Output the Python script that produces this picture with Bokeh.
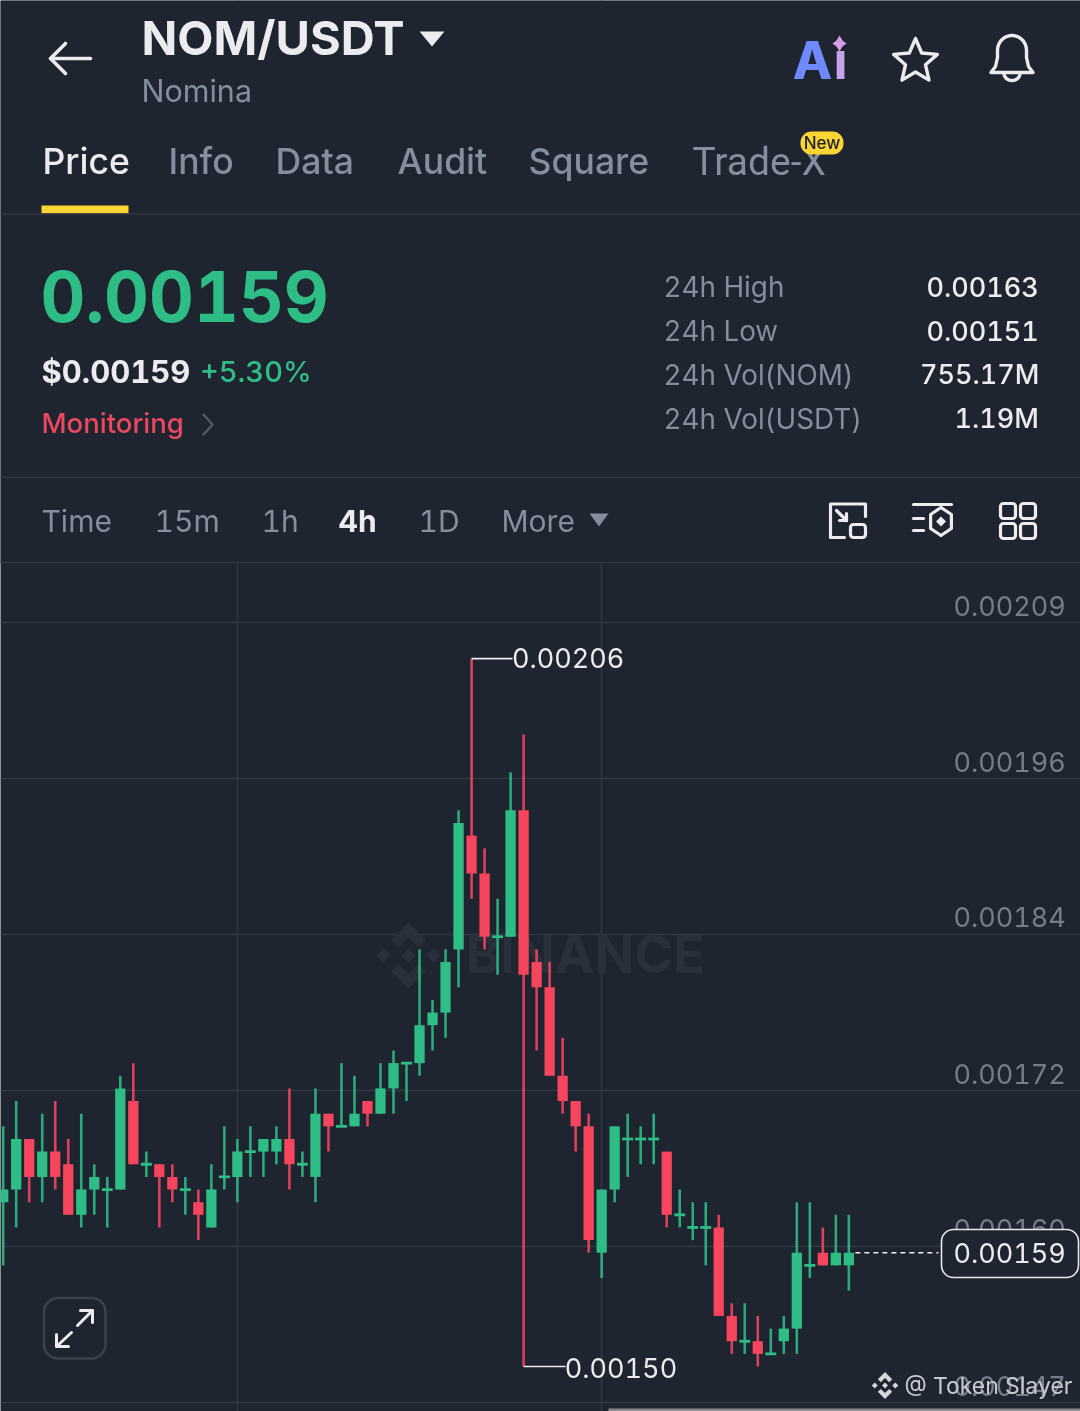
import numpy as np
from bokeh.plotting import figure
from bokeh.embed import file_html
from bokeh.resources import INLINE
from bokeh.core.properties import value
from bokeh.models import Range1d, FixedTicker

# ---------- chart data (prices) ----------
opens = [0.00163,0.00164,0.00168,0.00165,0.00167,0.00166,0.00162,0.00164,0.00164,0.00164,
         0.00171,0.00166,0.00166,0.00165,0.00164,0.00163,0.00161,0.00165,0.00165,0.00167,
         0.00167,0.00167,0.00168,0.00166,0.00165,0.00170,0.00169,0.00169,0.00171,0.00170,
         0.00172,0.00174,0.00174,0.00177,0.00178,0.00183,0.00192,0.00189,0.00184,0.00184,
         0.00194,0.00182,0.00180,0.00173,0.00171,0.00169,0.00159,0.00164,0.00168,0.00168,
         0.00168,0.00167,0.00162,0.00161,0.00161,0.00161,0.00154,0.00152,0.00152,0.00151,
         0.00152,0.00153,0.00158,0.00159,0.00158,0.00158]
closes = [0.00164,0.00168,0.00165,0.00167,0.00165,0.00162,0.00164,0.00165,0.00164,0.00172,
          0.00166,0.00166,0.00165,0.00164,0.00164,0.00162,0.00164,0.00165,0.00167,0.00167,
          0.00168,0.00168,0.00166,0.00166,0.00170,0.00169,0.00169,0.00170,0.00170,0.00172,
          0.00174,0.00174,0.00177,0.00178,0.00182,0.00193,0.00189,0.00184,0.00184,0.00194,
          0.00181,0.00180,0.00173,0.00171,0.00169,0.00160,0.00164,0.00169,0.00168,0.00168,
          0.00168,0.00162,0.00162,0.00161,0.00161,0.00154,0.00152,0.00152,0.00151,0.00151,
          0.00153,0.00159,0.00158,0.00158,0.00159,0.00159]
highs = [0.00169,0.00171,0.00168,0.00170,0.00171,0.00168,0.00170,0.00166,0.00165,0.00173,
         0.00174,0.00167,0.00166,0.00166,0.00165,0.00164,0.00166,0.00169,0.00168,0.00169,
         0.00168,0.00169,0.00172,0.00167,0.00172,0.00170,0.00174,0.00173,0.00171,0.00174,
         0.00175,0.00174,0.00183,0.00179,0.00183,0.00194,0.00206,0.00191,0.00187,0.00197,
         0.00200,0.00183,0.00182,0.00176,0.00171,0.00170,0.00164,0.00169,0.00170,0.00169,
         0.00170,0.00167,0.00164,0.00163,0.00163,0.00162,0.00155,0.00155,0.00154,0.00153,
         0.00154,0.00163,0.00163,0.00161,0.00162,0.00162]
lows = [0.00158,0.00161,0.00163,0.00163,0.00164,0.00162,0.00161,0.00162,0.00161,0.00164,
        0.00166,0.00165,0.00161,0.00163,0.00162,0.00160,0.00161,0.00164,0.00163,0.00165,
        0.00165,0.00166,0.00164,0.00165,0.00163,0.00167,0.00169,0.00169,0.00169,0.00170,
        0.00170,0.00171,0.00173,0.00175,0.00176,0.00180,0.00187,0.00183,0.00181,0.00184,
        0.00150,0.00175,0.00173,0.00170,0.00167,0.00159,0.00157,0.00163,0.00165,0.00166,
        0.00166,0.00161,0.00161,0.00160,0.00158,0.00154,0.00151,0.00151,0.00150,0.00151,
        0.00151,0.00151,0.00157,0.00158,0.00158,0.00156]

y_ticks = [0.0020886, 0.0019649, 0.0018420, 0.0017180, 0.0015951, 0.0014715]
y_tick_labels = ["0.00209", "0.00196", "0.00184", "0.00172", "0.00160", "0.00147"]
x_grid_candles = [18, 46]
last_price = 0.00159
high_index, high_price = 36, 0.00206
low_index, low_price = 40, 0.00150

tabs = ["Price", "Info", "Data", "Audit", "Square", "Trade-X"]
intervals = ["Time", "15m", "1h", "4h", "1D", "More"]
stat_names = ["24h High", "24h Low", "24h Vol(NOM)", "24h Vol(USDT)"]
stat_values = ["0.00163", "0.00151", "755.17M", "1.19M"]

# ---------- palette ----------
BG, GRID = "#1e2430", "#323843"
GREEN, RED = "#2ebd85", "#f6465d"
WHITE, GRAY, DIM = "#eaecef", "#848e9c", "#767d89"
FONT = value("Inter")
MEDIUM = value("Inter Medium")

# px -> price scales: 12.64 px per 0.00001; 13.01 px per candle
W, H = 1080, 1411
px_y = lambda y: 0.00150 + (1366 - y) / 12.64 * 1e-5
px_x = lambda x: (x - 2.7) / 13.01

p = figure(width=W, height=H, output_backend="svg", toolbar_location=None, tools="",
           x_range=Range1d(px_x(0), px_x(W)), y_range=Range1d(px_y(H), px_y(0)),
           min_border=0, outline_line_color=None,
           background_fill_color=BG, border_fill_color=BG)
p.stylesheets = [':host{position:fixed !important;left:0;top:0;font-feature-settings:"tnum" 1}']
p.extra_x_ranges = {"ui": Range1d(0, W)}
p.extra_y_ranges = {"ui": Range1d(H, 0)}
UI = dict(x_range_name="ui", y_range_name="ui")

p.xaxis.visible = False
p.yaxis.visible = False
p.xgrid[0].ticker = FixedTicker(ticks=x_grid_candles)
p.ygrid[0].ticker = FixedTicker(ticks=y_ticks)
for g in (p.xgrid[0], p.ygrid[0]):
    g.grid_line_color = GRID
    g.grid_line_width = 1.5

# price labels sit 17 px above their grid lines, as in the app
p.text([px_x(953)] * len(y_ticks), y_ticks, text=y_tick_labels, text_font=FONT, text_font_size="27px",
       text_color=DIM, text_baseline="middle", y_offset=-17)


def T(x, y, s, size, color=WHITE, bold=False, align="left", level="glyph", font=FONT):
    p.text([x], [y], text=[s], text_font=font, text_font_size=f"{size}px", text_color=color,
           text_font_style="bold" if bold else "normal", text_align=align,
           text_baseline="middle", level=level, **UI)


def L(pts, color=WHITE, width=3.2, level="glyph", dash="solid"):
    xs, ys = zip(*pts)
    p.line(list(xs), list(ys), line_color=color, line_width=width, line_cap="round",
           line_join="round", line_dash=dash, level=level, **UI)


def F(pts, color, level="glyph"):
    xs, ys = zip(*pts)
    p.patch(list(xs), list(ys), fill_color=color, line_color=None, level=level, **UI)


def RR(l, r, t, b, radius, line=WHITE, width=3, fill=None, level="glyph"):
    p.quad(left=[l], right=[r], top=[t], bottom=[b], fill_color=fill, line_color=line,
           line_width=width, border_radius=radius, level=level, **UI)


def logo(cx, cy, s, color, level="glyph"):
    for dx in (-0.76, 0, 0.76):
        r = 0.22
        F([(cx + (dx - r) * s, cy), (cx + dx * s, cy - r * s), (cx + (dx + r) * s, cy), (cx + dx * s, cy + r * s)], color, level)
    for sg in (-1, 1):
        F([(cx + a * s, cy + sg * b * s) for a, b in
           [(0, 1), (.53, .47), (.31, .25), (0, .56), (-.31, .25), (-.53, .47)]], color, level)


# header mask hides the vertical grid lines above the chart
p.quad(left=[0], right=[W], top=[0], bottom=[562], fill_color=BG, line_color=None, **UI)

# ---------- watermark ----------
T(465, 953, "BINANCE", 52.5, "#2a303b", bold=True)
logo(408, 955, 33, "#2a303b")

# ---------- candles ----------
idx = np.arange(len(opens))
o, c, h, l = map(np.array, (opens, closes, highs, lows))
up = c >= o
col = np.where(up, GREEN, RED)
p.segment(idx, l, idx, h, line_color=col.tolist(), line_width=2.6, line_alpha=0.88)
solid = o != c
p.vbar(idx[solid], width=0.79, top=np.maximum(o, c)[solid], bottom=np.minimum(o, c)[solid],
       fill_color=col[solid].tolist(), line_color=None)
p.segment(idx[~solid] - 0.42, o[~solid], idx[~solid] + 0.42, o[~solid],
          line_color=col[~solid].tolist(), line_width=2.8)

# ---------- high/low markers and last price ----------
p.segment([high_index], [high_price], [high_index + 3.15], [high_price], line_color=WHITE, line_width=1.6)
p.segment([low_index], [low_price], [low_index + 3.22], [low_price], line_color=WHITE, line_width=1.6)
p.text([high_index + 3.1], [high_price], text=["0.00206"], text_font=FONT, text_font_size="27px",
       text_color=WHITE, text_baseline="middle", y_offset=-1)
p.text([low_index + 3.17], [low_price], text=["0.00150"], text_font=FONT, text_font_size="27px",
       text_color=WHITE, text_baseline="middle", y_offset=1)
p.segment([65.5], [last_price], [px_x(938)], [last_price], line_color=WHITE, line_width=1.6, line_dash="5 4")
RR(941, 1078, 1229, 1277, 12, line="#e6e8eb", width=1.6, fill=BG, level="overlay")
T(953, 1252, "0.00159", 27, WHITE, level="overlay")

# ---------- top bar ----------
L([(90, 58), (50, 58)], WHITE, 3.6)
L([(65, 43), (50, 58), (65, 73)], WHITE, 3.6)
T(141, 37, "NOM/USDT", 47, WHITE, bold=True)
F([(419, 31), (444, 31), (431.5, 46)], WHITE)
T(141, 90, "Nomina", 30.5, GRAY)

for dx in (0, 1):
    T(792 + dx, 60, "A", 52, "#6f8bfb", bold=True)
T(833, 60, "ı", 52, "#c9a2ee", bold=True)
F([(839, 35), (842, 40), (846, 43), (842, 46), (839, 51), (836, 46), (832, 43), (836, 40)], "#d79ae6")

ang = -np.pi / 2 + np.arange(11) * np.pi / 5
rad = np.where(np.arange(11) % 2 == 0, 23, 10.5)
L(list(zip(915 + rad * np.cos(ang), 61 + rad * np.sin(ang))), WHITE, 3.4)

th = np.linspace(np.pi, 2 * np.pi, 30)
bell = [(990.5, 72), (995, 66), (997, 57)]
bell += list(zip(1011.5 + 14.5 * np.cos(th), 50 + 15 * np.sin(th)))
bell += [(1026, 57), (1028, 66), (1032.5, 72), (990.5, 72)]
L(bell, WHITE, 3.4)
th2 = np.linspace(0, np.pi, 15)
L(list(zip(1011.5 + 8 * np.cos(th2), 73 + 7 * np.sin(th2))), WHITE, 3.4)

# ---------- tabs ----------
tab_x = [42, 168, 275, 397, 528, 692]
tab_font = [MEDIUM, MEDIUM, MEDIUM, MEDIUM, MEDIUM, value("Roboto")]
tab_size = [35.6, 35.6, 35.6, 35.6, 35.6, 39]
for i, (x, s) in enumerate(zip(tab_x, tabs)):
    T(x, 161, s, tab_size[i], WHITE if i == 0 else GRAY, font=tab_font[i])
RR(800, 843, 131, 154, 11, line=None, fill="#fcd535")
T(821.5, 142, "New", 17, "#1e2329", align="center", font=MEDIUM)
p.quad(left=[41], right=[128], top=[205], bottom=[213], fill_color="#fcd535", line_color=None, **UI)

for yy in (213.5, 477, 562):
    L([(0, yy), (W, yy)], "#303742", 1.5)

# ---------- price block ----------
T(40, 296, "0.00159", 69.5, GREEN, bold=True)
T(41, 371, "$0.00159", 31, WHITE, bold=True)
T(199.5, 371, "+5.30%", 29, GREEN, font=MEDIUM)
T(41, 422.5, "Monitoring", 27.5, "#e9485e", font=MEDIUM)
L([(203, 414), (212, 424), (203, 434)], "#525965", 2.4)
stat_left = [926, 926, 919.5, 954]
for yy, n, v, xv in zip([286, 330, 374, 418], stat_names, stat_values, stat_left):
    T(663, yy, n, 27.8, GRAY)
    T(xv, yy, v, 27, WHITE, font=MEDIUM)

# ---------- interval row ----------
int_x = [41, 154, 261, 338, 418, 501]
for x, s in zip(int_x, intervals):
    T(x, 520, s, 30, WHITE if s == "4h" else GRAY, bold=(s == "4h"))
F([(589, 513), (608, 513), (598.5, 526)], GRAY)

L([(865, 516), (865, 503.5), (830, 503.5), (830, 537), (844, 537)], WHITE, 3.2)
RR(850, 865, 524, 537, 3, line=WHITE, width=3.2)
L([(836, 510), (846, 520)], WHITE, 3.2)
L([(846, 513), (846, 520), (839, 520)], WHITE, 3.2)

L([(913, 504), (951, 504)], WHITE, 3.2)
L([(913, 518), (923, 518)], WHITE, 3.2)
L([(913, 530), (923, 530)], WHITE, 3.2)
hx = np.pi / 2 + np.arange(7) * np.pi / 3
L(list(zip(940.5 + 12 * np.cos(hx), 521 + 14 * np.sin(hx))), WHITE, 3.2)
F([(940.5, 516), (945.5, 521), (940.5, 526), (935.5, 521)], WHITE)

for x0 in (1000, 1020):
    for y0 in (503, 523):
        RR(x0, x0 + 15, y0, y0 + 15, 3, line=WHITE, width=3.2)

# ---------- expand button ----------
RR(43.5, 105, 1297.5, 1358, 14, line="#3a414d", width=2.6, fill=BG)
L([(77, 1325), (92, 1310)], WHITE, 3)
L([(80, 1310), (92, 1310), (92, 1322)], WHITE, 3)
L([(71, 1332), (56, 1346)], WHITE, 3)
L([(56, 1334), (56, 1346), (68, 1346)], WHITE, 3)

# ---------- credit and scrollbar ----------
logo(884.5, 1385, 13.5, "#d5d8dc", level="overlay")
T(904, 1385, "@ Token Slayer", 23, "#c6cad0", level="overlay")
p.quad(left=[608], right=[W], top=[1408], bottom=[H], fill_color="#8b8b8b", line_color=None, level="overlay", **UI)

open("out.html", "w").write(file_html(p, INLINE))
